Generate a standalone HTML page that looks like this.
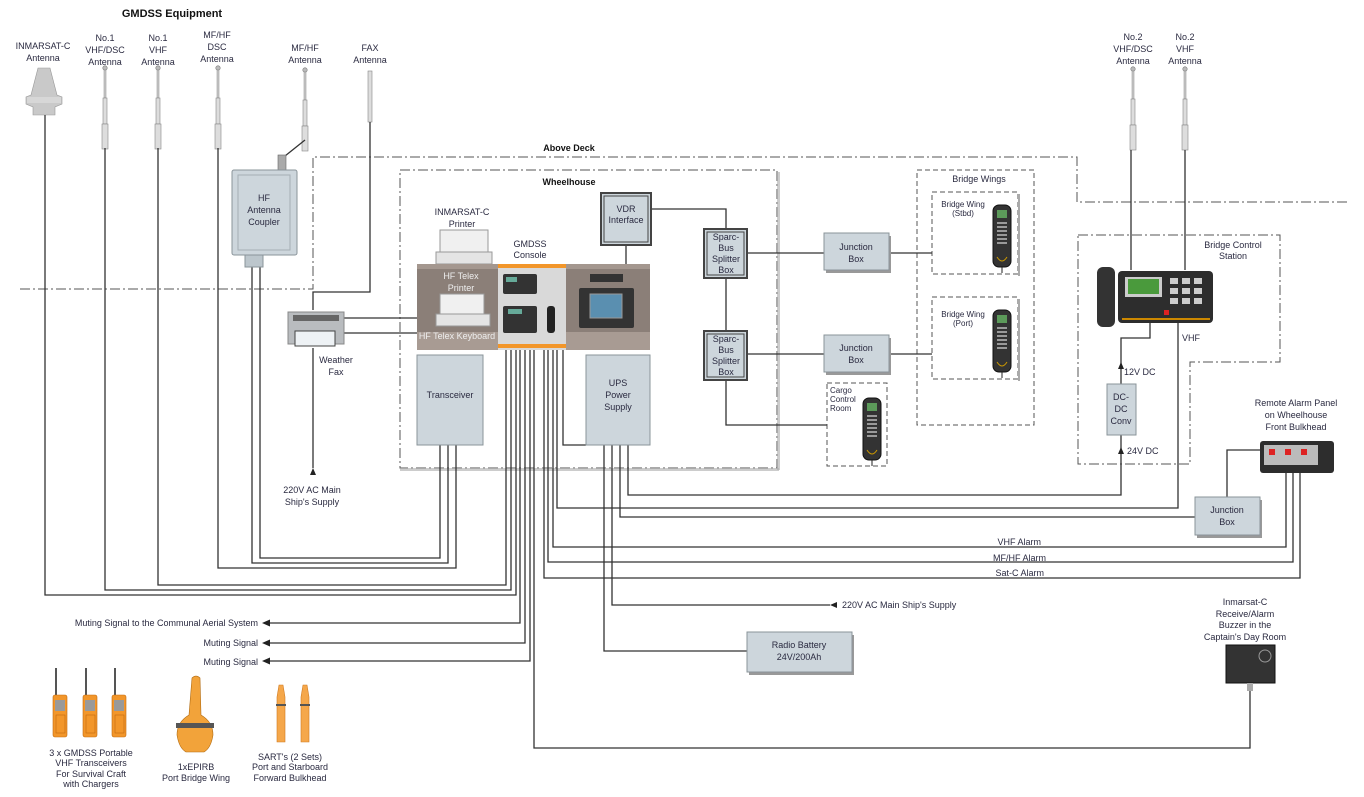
<!DOCTYPE html>
<html><head><meta charset="utf-8"><style>
html,body{margin:0;padding:0;background:#fff;}
svg{display:block;font-family:"Liberation Sans",sans-serif;}
.t{font-size:9px;fill:#2a2a40;text-anchor:middle;}
.w{fill:none;stroke:#333;stroke-width:1.3;}
.d{fill:none;stroke:#555;stroke-width:1;stroke-dasharray:10,3,2,3;}
.d2{fill:none;stroke:#555;stroke-width:1;stroke-dasharray:5,3;}
.box{fill:#cdd6dc;stroke:#8a949a;stroke-width:1;}
</style></head><body>
<svg width="1364" height="797" viewBox="0 0 1364 797" xmlns="http://www.w3.org/2000/svg">
<defs>
<g id="ant"><circle cx="0" cy="0" r="2.2" fill="#bbb" stroke="#777" stroke-width=".6"/><rect x="-1" y="2" width="2" height="28" fill="#ccc" stroke="#888" stroke-width=".5"/><rect x="-2" y="30" width="4" height="26" fill="#ddd" stroke="#888" stroke-width=".6"/><rect x="-3" y="56" width="6" height="25" fill="#ddd" stroke="#888" stroke-width=".6"/></g>
<g id="hs"><rect x="0" y="0" width="18" height="62" rx="6" fill="#333" stroke="#111"/><rect x="4" y="5" width="10" height="8" fill="#5c9a5a"/><g fill="#999"><rect x="4" y="17" width="10" height="2"/><rect x="4" y="21" width="10" height="2"/><rect x="4" y="25" width="10" height="2"/><rect x="4" y="29" width="10" height="2"/><rect x="4" y="33" width="10" height="2"/><rect x="4" y="37" width="10" height="2"/></g><path d="M4,52 Q9,60 14,52" stroke="#c90" fill="none"/><line x1="9" y1="62" x2="9" y2="68" stroke="#222"/></g>
<g id="wt"><line x1="3" y1="0" x2="3" y2="27" stroke="#555" stroke-width="2"/><rect x="0" y="27" width="14" height="42" rx="2" fill="#f2962a" stroke="#c06a10" stroke-width=".6"/><rect x="2" y="32" width="10" height="11" fill="#999"/><rect x="3" y="47" width="9" height="18" fill="none" stroke="#c06a10" stroke-width=".6"/></g>
<g id="sart"><path d="M4,0 L8,0 L10,12 L10,57 L2,57 L2,12 Z" fill="#f5a74a" stroke="#d07a20" stroke-width=".6"/><rect x="1" y="19" width="10" height="2" fill="#555"/></g>
</defs>

<text x="172" y="17" font-size="11" font-weight="bold" text-anchor="middle" fill="#111">GMDSS Equipment</text>

<g class="t">
<text x="43" y="49">INMARSAT-C</text><text x="43" y="61">Antenna</text>
<text x="105" y="41">No.1</text><text x="105" y="53">VHF/DSC</text><text x="105" y="65">Antenna</text>
<text x="158" y="41">No.1</text><text x="158" y="53">VHF</text><text x="158" y="65">Antenna</text>
<text x="217" y="38">MF/HF</text><text x="217" y="50">DSC</text><text x="217" y="62">Antenna</text>
<text x="305" y="51">MF/HF</text><text x="305" y="63">Antenna</text>
<text x="370" y="51">FAX</text><text x="370" y="63">Antenna</text>
<text x="1133" y="40">No.2</text><text x="1133" y="52">VHF/DSC</text><text x="1133" y="64">Antenna</text>
<text x="1185" y="40">No.2</text><text x="1185" y="52">VHF</text><text x="1185" y="64">Antenna</text>
</g>

<use href="#ant" x="105" y="68"/><use href="#ant" x="158" y="68"/><use href="#ant" x="218" y="68"/><use href="#ant" x="305" y="70"/>
<rect x="368" y="71" width="4" height="51" fill="#ddd" stroke="#888" stroke-width=".6"/>
<use href="#ant" x="1133" y="69"/><use href="#ant" x="1185" y="69"/>
<path d="M38,68 L50,68 L57,95 L62,97 L62,104 L55,107 L55,115 L33,115 L33,107 L26,104 L26,97 L31,95 Z" fill="#c9c9c9" stroke="#999" stroke-width=".6"/>
<g stroke="#eee" stroke-width=".8"><line x1="27" y1="98" x2="61" y2="98"/><line x1="27" y1="100" x2="61" y2="100"/><line x1="27" y1="102" x2="61" y2="102"/></g>

<path class="d" d="M20,289 H313 V157 H1077 V202 H1350"/>
<rect x="400" y="170" width="377" height="298" class="d"/>
<rect x="400" y="468" width="379" height="3" fill="#aaa" opacity=".6"/>
<rect x="777" y="172" width="3" height="298" fill="#aaa" opacity=".6"/>
<text x="569" y="151" font-size="9" font-weight="bold" text-anchor="middle" fill="#111">Above Deck</text>
<text x="569" y="185" font-size="9" font-weight="bold" text-anchor="middle" fill="#111">Wheelhouse</text>

<rect x="917" y="170" width="117" height="255" class="d2"/>
<text x="979" y="182" class="t">Bridge Wings</text>
<rect x="932" y="192" width="86" height="82" class="d2"/><rect x="1018" y="194" width="2" height="82" fill="#aaa"/>
<rect x="932" y="297" width="86" height="82" class="d2"/><rect x="1018" y="299" width="2" height="82" fill="#aaa"/>
<text x="963" y="207" font-size="8" text-anchor="middle" fill="#2a2a40">Bridge Wing</text><text x="963" y="216" font-size="8" text-anchor="middle" fill="#2a2a40">(Stbd)</text>
<text x="963" y="317" font-size="8" text-anchor="middle" fill="#2a2a40">Bridge Wing</text><text x="963" y="326" font-size="8" text-anchor="middle" fill="#2a2a40">(Port)</text>
<use href="#hs" x="993" y="205"/><use href="#hs" x="993" y="310"/>
<rect x="827" y="383" width="60" height="83" class="d2"/>
<text x="830" y="393" font-size="8" fill="#2a2a40">Cargo</text><text x="830" y="402" font-size="8" fill="#2a2a40">Control</text><text x="830" y="411" font-size="8" fill="#2a2a40">Room</text>
<use href="#hs" x="863" y="398"/>

<path class="d" d="M1078,235 H1280 V362 H1190 V464 H1078 Z"/>
<text x="1233" y="248" class="t">Bridge Control</text><text x="1233" y="259" class="t">Station</text>

<g class="w">
<path d="M45,115 V595 H516 V350"/>
<path d="M105,148 V590 H511 V350"/>
<path d="M158,148 V585 H506 V350"/>
<path d="M218,148 V568 H456 V445"/>
<path d="M252,265 V563 H448 V445"/>
<path d="M260,265 V558 H440 V445"/>
<path d="M305,140 L280,160"/>
<path d="M370,122 V292 H313 V310"/>
<path d="M313,348 V468"/>
<path d="M343,318 H417 M343,333 H417"/>
<path d="M520,350 V623 H268"/>
<path d="M525,350 V643 H268"/>
<path d="M530,350 V661 H268"/>
<path d="M534,350 V748 H1250 V688"/>
<path d="M544,350 V578 H1300 V472"/>
<path d="M548,350 V562 H1293 V472"/>
<path d="M553,350 V547 H1286 V472"/>
<path d="M557,350 V508 H1178 V322"/>
<path d="M563,350 V445 H586"/>
<path d="M604,445 V651 H747"/>
<path d="M612,445 V605 H830"/>
<path d="M620,445 V517 H1195"/>
<path d="M628,445 V495 H1121 V435"/>
<path d="M1121,384 V338 H1150 V322"/>
<path d="M1131,150 V270 M1185,150 V270"/>
<path d="M1227,497 V450 H1260"/>
<path d="M626,245 V265"/>
<path d="M651,209 H726 V229"/>
<path d="M726,278 V331"/>
<path d="M747,253 H824 M889,253 H932"/>
<path d="M747,354 H824 M889,354 H932"/>
<path d="M726,380 V425 H827"/>
</g>
<path d="M262,623 l8,-3.5 v7 z M262,643 l8,-3.5 v7 z M262,661 l8,-3.5 v7 z" fill="#222"/>
<path d="M313,468 l-3,7 h6 z" fill="#222"/>
<path d="M830,605 l7,-3 v6 z" fill="#222"/>
<path d="M1121,362 l-3,7 h6 z" fill="#222"/>
<path d="M1121,447 l-3,7 h6 z" fill="#222"/>

<g font-size="9" fill="#2a2a40">
<text x="258" y="626" text-anchor="end">Muting Signal to the Communal Aerial System</text>
<text x="258" y="646" text-anchor="end">Muting Signal</text>
<text x="258" y="665" text-anchor="end">Muting Signal</text>
<text x="1041" y="545" text-anchor="end">VHF Alarm</text>
<text x="1046" y="561" text-anchor="end">MF/HF Alarm</text>
<text x="1044" y="576" text-anchor="end">Sat-C Alarm</text>
<text x="842" y="608">220V AC Main Ship's Supply</text>
<text x="1124" y="375">12V DC</text>
<text x="1127" y="454">24V DC</text>
<text x="1182" y="341">VHF</text>
</g>
<text x="312" y="493" class="t">220V AC Main</text><text x="312" y="505" class="t">Ship's Supply</text>

<rect x="278" y="155" width="8" height="15" fill="#aaa" stroke="#666" stroke-width=".6"/>
<rect x="232" y="170" width="65" height="85" rx="2" class="box"/>
<rect x="238" y="175" width="52" height="75" fill="none" stroke="#a5afb5"/>
<rect x="245" y="255" width="18" height="12" fill="#bcc6cc" stroke="#8a949a"/>
<text x="264" y="201" class="t">HF</text><text x="264" y="213" class="t">Antenna</text><text x="264" y="225" class="t">Coupler</text>

<rect x="288" y="312" width="56" height="32" fill="#b9bcbf" stroke="#888"/>
<rect x="293" y="315" width="46" height="6" fill="#666"/>
<rect x="295" y="331" width="40" height="15" fill="#eef2f5" stroke="#444"/>
<text x="336" y="363" class="t">Weather</text><text x="336" y="375" class="t">Fax</text>

<text x="462" y="215" class="t">INMARSAT-C</text><text x="462" y="227" class="t">Printer</text>
<rect x="440" y="230" width="48" height="26" fill="#f0f0f0" stroke="#999"/>
<rect x="436" y="252" width="56" height="12" fill="#e4e4e4" stroke="#999"/>

<rect x="417" y="264" width="233" height="86" fill="#8b7f78"/>
<rect x="417" y="264" width="233" height="5" fill="#a4978f"/>
<rect x="498" y="264" width="68" height="86" fill="#d9d9d9"/>
<rect x="498" y="264" width="68" height="4" fill="#f2962a"/>
<rect x="498" y="344" width="68" height="4" fill="#f2962a"/>
<rect x="417" y="332" width="81" height="18" fill="#a89b93"/>
<rect x="566" y="332" width="84" height="18" fill="#a89b93"/>
<text x="530" y="247" class="t">GMDSS</text><text x="530" y="258" class="t">Console</text>
<text x="461" y="279" font-size="9" fill="#eee" text-anchor="middle">HF Telex</text>
<text x="461" y="291" font-size="9" fill="#eee" text-anchor="middle">Printer</text>
<rect x="440" y="294" width="44" height="25" fill="#f0f0f0" stroke="#999"/>
<rect x="436" y="314" width="54" height="12" fill="#e4e4e4" stroke="#999"/>
<text x="457" y="339" font-size="9" fill="#eee" text-anchor="middle">HF Telex Keyboard</text>
<rect x="503" y="274" width="34" height="20" rx="2" fill="#333"/><rect x="506" y="277" width="11" height="5" fill="#6a9"/>
<rect x="503" y="306" width="34" height="27" rx="2" fill="#333"/><rect x="508" y="309" width="14" height="5" fill="#6a9"/>
<rect x="547" y="306" width="8" height="27" rx="3" fill="#222"/>
<rect x="590" y="274" width="33" height="8" fill="#333"/>
<rect x="579" y="288" width="55" height="40" rx="2" fill="#333"/><rect x="590" y="294" width="32" height="24" fill="#5a8fb0" stroke="#999"/>

<rect x="417" y="355" width="66" height="90" class="box"/>
<text x="450" y="398" class="t">Transceiver</text>
<rect x="586" y="355" width="64" height="90" class="box"/>
<text x="618" y="386" class="t">UPS</text><text x="618" y="398" class="t">Power</text><text x="618" y="410" class="t">Supply</text>

<rect x="601" y="193" width="50" height="52" fill="#cdd6dc" stroke="#444" stroke-width="2"/>
<rect x="604" y="196" width="44" height="46" fill="none" stroke="#444"/>
<text x="626" y="212" class="t">VDR</text><text x="626" y="223" class="t">Interface</text>
<rect x="704" y="229" width="43" height="49" fill="#cdd6dc" stroke="#444" stroke-width="2"/>
<rect x="707" y="232" width="37" height="43" fill="none" stroke="#444"/>
<text x="726" y="240" class="t">Sparc-</text><text x="726" y="251" class="t">Bus</text><text x="726" y="262" class="t">Splitter</text><text x="726" y="273" class="t">Box</text>
<rect x="704" y="331" width="43" height="49" fill="#cdd6dc" stroke="#444" stroke-width="2"/>
<rect x="707" y="334" width="37" height="43" fill="none" stroke="#444"/>
<text x="726" y="342" class="t">Sparc-</text><text x="726" y="353" class="t">Bus</text><text x="726" y="364" class="t">Splitter</text><text x="726" y="375" class="t">Box</text>
<rect x="826" y="236" width="65" height="37" fill="#999"/><rect x="824" y="233" width="65" height="37" class="box"/>
<text x="856" y="250" class="t">Junction</text><text x="856" y="262" class="t">Box</text>
<rect x="826" y="338" width="65" height="37" fill="#999"/><rect x="824" y="335" width="65" height="37" class="box"/>
<text x="856" y="351" class="t">Junction</text><text x="856" y="363" class="t">Box</text>
<rect x="1197" y="500" width="65" height="38" fill="#999"/><rect x="1195" y="497" width="65" height="38" class="box"/>
<text x="1227" y="513" class="t">Junction</text><text x="1227" y="525" class="t">Box</text>
<rect x="749" y="635" width="105" height="40" fill="#999"/><rect x="747" y="632" width="105" height="40" class="box"/>
<text x="799" y="648" class="t">Radio Battery</text><text x="799" y="660" class="t">24V/200Ah</text>
<rect x="1107" y="384" width="29" height="51" class="box"/>
<text x="1121" y="400" class="t">DC-</text><text x="1121" y="412" class="t">DC</text><text x="1121" y="424" class="t">Conv</text>

<rect x="1097" y="267" width="18" height="60" rx="6" fill="#333"/>
<rect x="1118" y="271" width="95" height="52" rx="4" fill="#2d2d2d"/>
<rect x="1125" y="277" width="37" height="20" fill="#ccc"/><rect x="1128" y="279" width="31" height="15" fill="#4a9a3c"/>
<g fill="#ccc"><rect x="1170" y="278" width="8" height="6"/><rect x="1182" y="278" width="8" height="6"/><rect x="1194" y="278" width="8" height="6"/><rect x="1170" y="288" width="8" height="6"/><rect x="1182" y="288" width="8" height="6"/><rect x="1194" y="288" width="8" height="6"/><rect x="1170" y="298" width="8" height="6"/><rect x="1182" y="298" width="8" height="6"/><rect x="1194" y="298" width="8" height="6"/></g>
<rect x="1164" y="310" width="5" height="5" fill="#d22"/>
<rect x="1122" y="318" width="88" height="2" fill="#c80"/>

<text x="1296" y="406" class="t">Remote Alarm Panel</text><text x="1296" y="418" class="t">on Wheelhouse</text><text x="1296" y="430" class="t">Front Bulkhead</text>
<rect x="1260" y="441" width="74" height="32" rx="3" fill="#2d2d2d"/>
<rect x="1264" y="445" width="54" height="20" fill="#bbb"/>
<rect x="1269" y="449" width="6" height="6" fill="#d22"/><rect x="1285" y="449" width="6" height="6" fill="#d22"/><rect x="1301" y="449" width="6" height="6" fill="#d22"/>

<text x="1245" y="605" class="t">Inmarsat-C</text><text x="1245" y="617" class="t">Receive/Alarm</text><text x="1245" y="628" class="t">Buzzer in the</text><text x="1245" y="640" class="t">Captain's Day Room</text>
<rect x="1226" y="645" width="49" height="38" fill="#333" stroke="#111"/>
<circle cx="1265" cy="656" r="6" fill="none" stroke="#999"/>
<rect x="1247" y="683" width="6" height="8" fill="#aaa"/>

<use href="#wt" x="53" y="668"/><use href="#wt" x="83" y="668"/><use href="#wt" x="112" y="668"/>
<text x="91" y="756" class="t">3 x GMDSS Portable</text><text x="91" y="766" class="t">VHF Transceivers</text><text x="91" y="777" class="t">For Survival Craft</text><text x="91" y="787" class="t">with Chargers</text>
<path d="M192,678 Q196,674 200,678 L201,715 Q213,722 213,735 Q211,748 204,752 L186,752 Q179,748 177,735 Q177,722 189,715 Z" fill="#f2a33a" stroke="#b06a10" stroke-width=".6"/>
<rect x="176" y="723" width="38" height="5" fill="#555"/>
<text x="196" y="770" class="t">1xEPIRB</text><text x="196" y="781" class="t">Port Bridge Wing</text>
<use href="#sart" x="275" y="685"/><use href="#sart" x="299" y="685"/>
<text x="290" y="760" class="t">SART's (2 Sets)</text><text x="290" y="770" class="t">Port and Starboard</text><text x="290" y="781" class="t">Forward Bulkhead</text>
</svg>
</body></html>
